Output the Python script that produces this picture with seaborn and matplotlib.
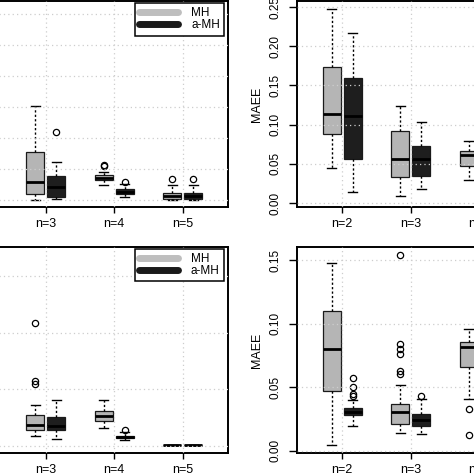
import numpy as np
import pandas as pd
import matplotlib
matplotlib.use("Agg")
import matplotlib.pyplot as plt
import seaborn as sns
from matplotlib.lines import Line2D

# ---------------- data ----------------
CATS = ["n=2", "n=3", "n=4", "n=5"]
METHODS = ["MH", "a-MH"]

# five-number summaries: [lower whisker, Q1, median, Q3, upper whisker]
# top-left panel
TL_MH_N = ["n=3", "n=4", "n=5"]
TL_MH = [[0.0, 0.0097, 0.029, 0.077, 0.152],
         [0.024, 0.0325, 0.036, 0.0405, 0.045],
         [0.0, 0.0011, 0.0065, 0.0118, 0.0242]]
TL_MH_OUT = [[], [0.0545, 0.057], [0.0334]]
TL_AMH_N = ["n=3", "n=4", "n=5"]
TL_AMH = [[0.0016, 0.005, 0.021, 0.039, 0.061],
          [0.0053, 0.0092, 0.0134, 0.017, 0.026],
          [0.0, 0.001, 0.006, 0.012, 0.0242]]
TL_AMH_OUT = [[0.110], [0.0295], [0.0334]]

# top-right panel
TR_MH_N = ["n=2", "n=3", "n=4"]
TR_MH = [[0.0446, 0.088, 0.1135, 0.174, 0.247],
         [0.0089, 0.0328, 0.0565, 0.0914, 0.1237],
         [0.029, 0.0476, 0.061, 0.066, 0.079]]
TR_MH_OUT = [[], [], []]
TR_AMH_N = ["n=2", "n=3"]
TR_AMH = [[0.0144, 0.0557, 0.1105, 0.159, 0.217],
          [0.018, 0.034, 0.0555, 0.073, 0.103]]
TR_AMH_OUT = [[], []]

# bottom-left panel
BL_MH_N = ["n=3", "n=4", "n=5"]
BL_MH = [[0.0084, 0.0137, 0.0187, 0.027, 0.0362],
         [0.0155, 0.022, 0.0264, 0.0309, 0.0404],
         [0.0002, 0.0003, 0.0004, 0.0005, 0.0006]]
BL_MH_OUT = [[0.0543, 0.0576, 0.1086], [], []]
BL_AMH_N = ["n=3", "n=4", "n=5"]
BL_AMH = [[0.0057, 0.0137, 0.0178, 0.0253, 0.0404],
          [0.0048, 0.0066, 0.0077, 0.0089, 0.0122],
          [0.0002, 0.0003, 0.0004, 0.0005, 0.0006]]
BL_AMH_OUT = [[], [0.0142], []]

# bottom-right panel
BR_MH_N = ["n=2", "n=3", "n=4"]
BR_MH = [[0.0042, 0.0466, 0.080, 0.1096, 0.1478],
         [0.0141, 0.0209, 0.0304, 0.0366, 0.0515],
         [0.0408, 0.0662, 0.0813, 0.0853, 0.0957]]
BR_MH_OUT = [[], [0.0604, 0.063, 0.076, 0.080, 0.0839, 0.154], [0.0121, 0.0325]]
BR_AMH_N = ["n=2", "n=3"]
BR_AMH = [[0.0197, 0.0278, 0.0306, 0.0334, 0.0398],
          [0.0128, 0.0196, 0.0241, 0.0285, 0.0403]]
BR_AMH_OUT = [[0.0428, 0.0443, 0.050, 0.057], [0.0429]]

TL_YTICKS = [0.00, 0.05, 0.10, 0.15, 0.20, 0.25, 0.30]
TR_YTICKS = [0.00, 0.05, 0.10, 0.15, 0.20, 0.25]
BL_YTICKS = [0.00, 0.05, 0.10, 0.15]
BR_YTICKS = [0.00, 0.05, 0.10, 0.15]
Y_LABEL = "MAEE"

BOX_COLORS = {"MH": "#b5b5b5", "a-MH": "#1e1e1e"}
LEG_COLORS = {"MH": "#bebebe", "a-MH": "#1a1a1a"}


def expand(five, outliers, m=8):
    """Sample whose quartiles/whiskers equal the five-number summary
    (stat values repeated), plus the outliers."""
    lo, q1, med, q3, hi = five
    lows = sorted(o for o in outliers if o < q1)
    highs = sorted(o for o in outliers if o > q3)
    return (lows + [lo] + [q1] * (m - len(lows)) + [med] * m + [q3] * m
            + [hi] * (m - len(highs)) + highs)


def panel_frame(groups):
    rows = []
    for method, ns, fives, outs in groups:
        for n, f, o in zip(ns, fives, outs):
            for v in expand(f, o):
                rows.append((n, method, v))
    return pd.DataFrame(rows, columns=["n", "method", "value"])


plt.rcParams["font.family"] = ["Liberation Sans", "DejaVu Sans"]
NARROW = ["Liberation Sans Narrow", "Liberation Sans", "DejaVu Sans"]

W = H = 474
fig = plt.figure(figsize=(W / 100, H / 100), dpi=100)


def px_axes(left, top, width, height):
    return fig.add_axes([left / W, (H - top - height) / H, width / W, height / H])


panels = [
    dict(ax=px_axes(-68, 1, 296, 206), ylim=(-0.0113, 0.321), yt=TL_YTICKS, left=True,
         legend=(0.9875, 0.989),
         groups=[("MH", TL_MH_N, TL_MH, TL_MH_OUT), ("a-MH", TL_AMH_N, TL_AMH, TL_AMH_OUT)]),
    dict(ax=px_axes(297, 1, 296, 206), ylim=(-0.0051, 0.2577), yt=TR_YTICKS, left=False,
         legend=None,
         groups=[("MH", TR_MH_N, TR_MH, TR_MH_OUT), ("a-MH", TR_AMH_N, TR_AMH, TR_AMH_OUT)]),
    dict(ax=px_axes(-68, 247, 296, 206), ylim=(-0.0065, 0.176), yt=BL_YTICKS, left=True,
         legend=(0.986, 0.992),
         groups=[("MH", BL_MH_N, BL_MH, BL_MH_OUT), ("a-MH", BL_AMH_N, BL_AMH, BL_AMH_OUT)]),
    dict(ax=px_axes(297, 247, 296, 206), ylim=(-0.0018, 0.1603), yt=BR_YTICKS, left=False,
         legend=None,
         groups=[("MH", BR_MH_N, BR_MH, BR_MH_OUT), ("a-MH", BR_AMH_N, BR_AMH, BR_AMH_OUT)]),
]

for p in panels:
    ax = p["ax"]
    df = panel_frame(p["groups"])
    sns.boxplot(
        data=df, x="n", y="value", hue="method", order=CATS, hue_order=METHODS,
        palette=BOX_COLORS, saturation=1, width=0.61, gap=0.15, whis=1.5,
        linewidth=0.9, linecolor="#1a1a1a", fliersize=4.5, legend=False, ax=ax,
        medianprops=dict(color="black", linewidth=2.0),
        whiskerprops=dict(color="black", linewidth=1.0, linestyle=(0, (1.6, 1.6))),
        capprops=dict(color="black", linewidth=1.0),
        flierprops=dict(marker="o", markerfacecolor="none", markeredgecolor="black",
                        markeredgewidth=0.9),
    )
    ax.set_xlim(-0.66, 3.66)
    ax.set_ylim(*p["ylim"])
    ax.set_xlabel("")
    ax.set_axisbelow(False)
    ax.grid(True, color="#cdcdcd", linestyle=(0, (1, 2.5)), linewidth=0.9)
    for s in ax.spines.values():
        s.set_visible(True)
        s.set_color("black")
        s.set_linewidth(1.4)
    ax.set_yticks(p["yt"])
    ax.tick_params(axis="x", direction="out", length=4.5, width=1.0, pad=3.5,
                   labelsize=9, colors="black", bottom=True, top=False)
    ax.tick_params(axis="y", direction="out", length=6, width=1.0, pad=5,
                   left=True, right=False)
    if p["left"]:
        ax.tick_params(axis="y", labelleft=False)
        ax.set_ylabel("")
    else:
        ax.set_yticklabels([f"{t:.2f}" for t in p["yt"]], rotation=90, va="center",
                           family=NARROW, fontsize=8.5)
        ax.set_ylabel(Y_LABEL, family=NARROW, fontsize=9, labelpad=5)
    if p["legend"] is not None:
        handles = [Line2D([0], [0], color=LEG_COLORS[m], lw=5, solid_capstyle="round")
                   for m in METHODS]
        leg = ax.legend(handles, METHODS, loc="upper right", bbox_to_anchor=p["legend"],
                        borderaxespad=0, frameon=True, fancybox=False, edgecolor="black",
                        framealpha=1, fontsize=8.5, handlelength=3.3, handletextpad=1.1,
                        borderpad=0.35, labelspacing=0.0)
        leg.get_frame().set_linewidth(1.1)
        leg.set_zorder(5)

fig.savefig("out.png", dpi=100)
